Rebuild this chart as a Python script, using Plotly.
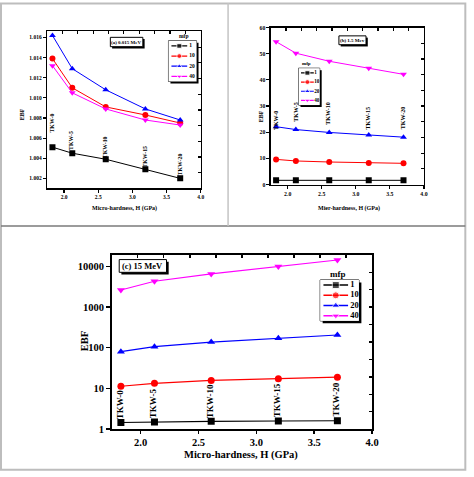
import math
import plotly.graph_objects as go

W, H = 474, 477

# ---------------- data ----------------
hardness = [1.83, 2.12, 2.61, 3.19, 3.70]          # Micro-hardness H (GPa)
samples = ["TKW-0", "TKW-5", "TKW-10", "TKW-15", "TKW-20"]
mfp_labels = ["1", "10", "20", "40"]

# (a) 0.015 MeV
a_mfp1 = [1.0051, 1.0045, 1.0039, 1.0029, 1.0020]
a_mfp10 = [1.0139, 1.0110, 1.0091, 1.0083, 1.0075]
a_mfp20 = [1.0162, 1.0129, 1.0108, 1.0089, 1.0078]
a_mfp40 = [1.0132, 1.0105, 1.0089, 1.0078, 1.0073]

# (b) 1.5 MeV
b_mfp1 = [1.6, 1.6, 1.6, 1.6, 1.6]
b_mfp10 = [9.6, 9.0, 8.6, 8.25, 8.1]
b_mfp20 = [22.1, 21.0, 19.9, 18.9, 18.1]
b_mfp40 = [54.6, 50.2, 47.1, 44.4, 42.1]

# (c) 15 MeV
c_mfp1 = [1.45, 1.50, 1.55, 1.58, 1.60]
c_mfp10 = [11.3, 13.3, 15.7, 17.3, 18.9]
c_mfp20 = [80, 106, 137, 170, 205]
c_mfp40 = [2600, 4270, 6500, 9800, 14200]

# label anchor heights (in data units) for the sample names
tkw_a_y = [1.00753, 1.00578, 1.0051, 1.00412, 1.00334]
tkw_b_y = [24.4, 27.5, 26.9, 25.3, 25.3]
tkw_c_y = [4.0, 4.4, 4.86, 5.14, 5.43]

x_ticks = [2.0, 2.5, 3.0, 3.5, 4.0]
x_ticktext = ["2.0", "2.5", "3.0", "3.5", "4.0"]
a_ticks = [1.002, 1.004, 1.006, 1.008, 1.010, 1.012, 1.014, 1.016]
b_ticks = [0, 10, 20, 30, 40, 50, 60]
c_ticks = [1, 10, 100, 1000, 10000]
c_ticktext = ["1", "10", "100", "1000", "10000"]

# ---------------- style ----------------
colors = ["#000000", "#ff0000", "#0000ff", "#ff00ff"]
symbols = ["square", "circle", "triangle-up", "triangle-down"]
FONT = "Liberation Serif"


def px(x):
    return x / W


def py(y):
    return 1 - y / H


def fnt(size, color="black"):
    return dict(family=FONT, size=size, color=color, weight="bold")


fig = go.Figure()

panels = [
    dict(xa="x", ya="y", series=[a_mfp1, a_mfp10, a_mfp20, a_mfp40], msize=6, lw=1),
    dict(xa="x2", ya="y2", series=[b_mfp1, b_mfp10, b_mfp20, b_mfp40], msize=6, lw=1),
    dict(xa="x3", ya="y3", series=[c_mfp1, c_mfp10, c_mfp20, c_mfp40], msize=7, lw=1.1),
]
for p in panels:
    for i, ser in enumerate(p["series"]):
        fig.add_trace(go.Scatter(
            x=hardness, y=ser, xaxis=p["xa"], yaxis=p["ya"], mode="lines+markers",
            line=dict(color=colors[i], width=p["lw"]),
            marker=dict(symbol=symbols[i], color=colors[i], size=p["msize"]),
            showlegend=False, hoverinfo="skip"))

# dummy traces to activate overlay (top/right tick) axes
for n in (4, 5, 6):
    fig.add_trace(go.Scatter(x=[None], y=[None], xaxis=f"x{n}", yaxis=f"y{n}",
                             showlegend=False, hoverinfo="skip"))

# ---------------- legends (mini axes) ----------------
legends = [
    dict(n=7, box=(171, 38.5, 199.5, 80), lx=(174, 190), lab=192, fs=5.5, ms=5, lw=1.2),
    dict(n=8, box=(303, 66.5, 324.5, 104), lx=(305.5, 318.5), lab=319, fs=5.2, ms=5, lw=1.2),
    dict(n=9, box=(325, 282.3, 364.3, 324), lx=(328.3, 353.3), lab=355.5, fs=8.5, ms=7, lw=1.5),
]
for L in legends:
    x0, y0, x1, y1 = L["box"]
    w = x1 - x0
    xa, ya = f"x{L['n']}", f"y{L['n']}"
    lxa = (L["lx"][0] - x0) / w
    lxb = (L["lx"][1] - x0) / w
    for i in range(4):
        fig.add_trace(go.Scatter(
            x=[lxa, (lxa + lxb) / 2, lxb], y=[i + 1] * 3, xaxis=xa, yaxis=ya,
            mode="lines+markers", line=dict(color=colors[i], width=L["lw"]),
            marker=dict(symbol=symbols[i], color=colors[i], size=[0, L["ms"], 0]),
            showlegend=False, hoverinfo="skip"))
    fig.add_trace(go.Scatter(
        x=[(L["lab"] - x0) / w] * 4, y=[1, 2, 3, 4], text=mfp_labels, mode="text",
        textposition="middle right", textfont=fnt(L["fs"]), xaxis=xa, yaxis=ya,
        showlegend=False, hoverinfo="skip"))

# ---------------- layout axes ----------------
dom = {
    "a": dict(x=(47.7, 203.7), y=(29, 189)),
    "b": dict(x=(274.7, 430.3), y=(25, 185)),
    "c": dict(x=(113.3, 377.7), y=(256.7, 434.3)),
}


def xdom(k):
    return [px(dom[k]["x"][0]), px(dom[k]["x"][1])]


def ydom(k):
    return [py(dom[k]["y"][1]), py(dom[k]["y"][0])]


def main_x(k, anchor, fs, lw, tl):
    return dict(domain=xdom(k), anchor=anchor, range=[1.75, 4.0], tickvals=x_ticks,
                ticktext=x_ticktext, ticks="outside", ticklen=tl, tickwidth=lw,
                tickcolor="black", showline=True, linecolor="black", linewidth=lw,
                mirror=True, showgrid=False, zeroline=False, tickfont=fnt(fs),
                fixedrange=True)


def over_x(base, anchor, lw):
    return dict(overlaying=base, anchor=anchor, side="top", range=[0, 10], dtick=1,
                ticks="inside", ticklen=3, tickwidth=lw, tickcolor="black",
                showticklabels=False, showline=False, showgrid=False, zeroline=False,
                fixedrange=True)


def over_y(base, anchor, lw):
    return dict(overlaying=base, anchor=anchor, side="right", range=[0, 10], dtick=1,
                ticks="inside", ticklen=3, tickwidth=lw, tickcolor="black",
                showticklabels=False, showline=False, showgrid=False, zeroline=False,
                fixedrange=True)


layout_axes = dict(
    xaxis=main_x("a", "y", 5.5, 1.2, 3),
    yaxis=dict(domain=ydom("a"), anchor="x", range=[1.001, 1.0166], tickvals=a_ticks,
               tickformat=".3f", ticks="outside", ticklen=3, tickwidth=1.2,
               tickcolor="black", showline=True, linecolor="black", linewidth=1.2,
               mirror=True, showgrid=False, zeroline=False, tickfont=fnt(5.5),
               fixedrange=True),
    xaxis2=main_x("b", "y2", 5.8, 1.2, 3),
    yaxis2=dict(domain=ydom("b"), anchor="x2", range=[0, 60], tickvals=b_ticks,
                ticks="outside", ticklen=3, tickwidth=1.2, tickcolor="black",
                showline=True, linecolor="black", linewidth=1.2, mirror=True,
                showgrid=False, zeroline=False, tickfont=fnt(5.8), fixedrange=True),
    xaxis3=main_x("c", "y3", 10.5, 1.5, 3),
    yaxis3=dict(domain=ydom("c"), anchor="x3", type="log", range=[0, 4.28],
                tickvals=c_ticks, ticktext=c_ticktext, ticks="outside", ticklen=4,
                tickwidth=1.5, tickcolor="black", showline=True, linecolor="black",
                linewidth=1.5, mirror=True, showgrid=False, zeroline=False,
                tickfont=fnt(10.5), fixedrange=True),
    xaxis4=over_x("x", "y4", 1.2), yaxis4=over_y("y", "x4", 1.2),
    xaxis5=over_x("x2", "y5", 1.2), yaxis5=over_y("y2", "x5", 1.2),
    xaxis6=over_x("x3", "y6", 1.5), yaxis6=over_y("y3", "x6", 1.5),
)
for L in legends:
    x0, y0, x1, y1 = L["box"]
    n = L["n"]
    layout_axes[f"xaxis{n}"] = dict(domain=[px(x0), px(x1)], anchor=f"y{n}", range=[0, 1],
                                    visible=False, fixedrange=True)
    layout_axes[f"yaxis{n}"] = dict(domain=[py(y1), py(y0)], anchor=f"x{n}",
                                    range=[4.5, 0.5], visible=False, fixedrange=True)

# ---------------- shapes ----------------
shapes = []


def boxed(x0, y0, x1, y1, off):
    shapes.append(dict(type="rect", xref="paper", yref="paper", layer="below",
                       x0=px(x0 + off), x1=px(x1 + off), y0=py(y1 + off), y1=py(y0 + off),
                       fillcolor="black", line=dict(width=0)))
    shapes.append(dict(type="rect", xref="paper", yref="paper", layer="below",
                       x0=px(x0), x1=px(x1), y0=py(y1), y1=py(y0),
                       fillcolor="white", line=dict(color="black", width=1)))


boxed(*legends[0]["box"], 2)
boxed(*legends[1]["box"], 2)
boxed(*legends[2]["box"], 2.5)
boxed(112, 35, 145, 44.5, 1.8)
boxed(344, 33.5, 371.5, 42.5, 1.8)
boxed(121, 261.5, 169, 274.5, 2.2)

# panel frames
shapes.append(dict(type="rect", xref="paper", yref="paper", layer="above",
                   x0=px(1), x1=px(472.3), y0=py(475.7), y1=py(0.5),
                   line=dict(color="#bdbdbd", width=2)))
shapes.append(dict(type="line", xref="paper", yref="paper", layer="above",
                   x0=px(1), x1=px(472.3), y0=py(227.3), y1=py(227.3),
                   line=dict(color="#7a7a7a", width=1.5)))
shapes.append(dict(type="line", xref="paper", yref="paper", layer="above",
                   x0=px(231.5), x1=px(231.5), y0=py(227.3), y1=py(0),
                   line=dict(color="#c4c4c4", width=1.5)))

# ---------------- annotations ----------------
ann = []


def txt(x, y, s, size, angle=0, xanchor="center"):
    ann.append(dict(x=px(x), y=py(y), xref="paper", yref="paper", text=s,
                    showarrow=False, font=fnt(size), textangle=angle,
                    xanchor=xanchor, yanchor="middle"))


# axis titles
txt(21.7, 113, "EBF", 6, -90)
txt(126, 209.3, "Micro-hardness, H (GPa)", 6)
txt(264.3, 115, "EBF", 6, -90)
txt(354, 209.3, "Mier-hardness, H (GPa)", 6)
txt(86, 345, "EBF", 10.5, -90)
txt(245, 461, "Micro-hardness, H (GPa)", 10.5)

# panel labels
txt(128.5, 39.8, "(a) 0.015 MeV", 5)
txt(357.7, 38, "(b) 1.5 Mev", 5)
txt(145, 268.3, "(c) 15 MeV", 8.5)

# legend titles
txt(186.7, 33.3, "mfp", 5.5)
txt(311.5, 61.5, "mfp", 5)
txt(343.3, 276.7, "mfp", 9)

# sample labels
for i, s in enumerate(samples):
    ann.append(dict(x=hardness[i] - 0.01, y=tkw_a_y[i], xref="x", yref="y", text=s,
                    showarrow=False, font=fnt(5.8), textangle=-90))
    ann.append(dict(x=hardness[i] - 0.01, y=tkw_b_y[i], xref="x2", yref="y2", text=s,
                    showarrow=False, font=fnt(6), textangle=-90))
    ann.append(dict(x=hardness[i] - 0.01, y=math.log10(tkw_c_y[i]), xref="x3", yref="y3",
                    text=s, showarrow=False, font=fnt(9), textangle=-90))

fig.update_layout(
    width=W, height=H, margin=dict(l=0, r=0, t=0, b=0),
    paper_bgcolor="white", plot_bgcolor="white",
    showlegend=False, shapes=shapes, annotations=ann, **layout_axes,
)

fig.write_html("out.html", config=dict(displayModeBar=False, staticPlot=True))
